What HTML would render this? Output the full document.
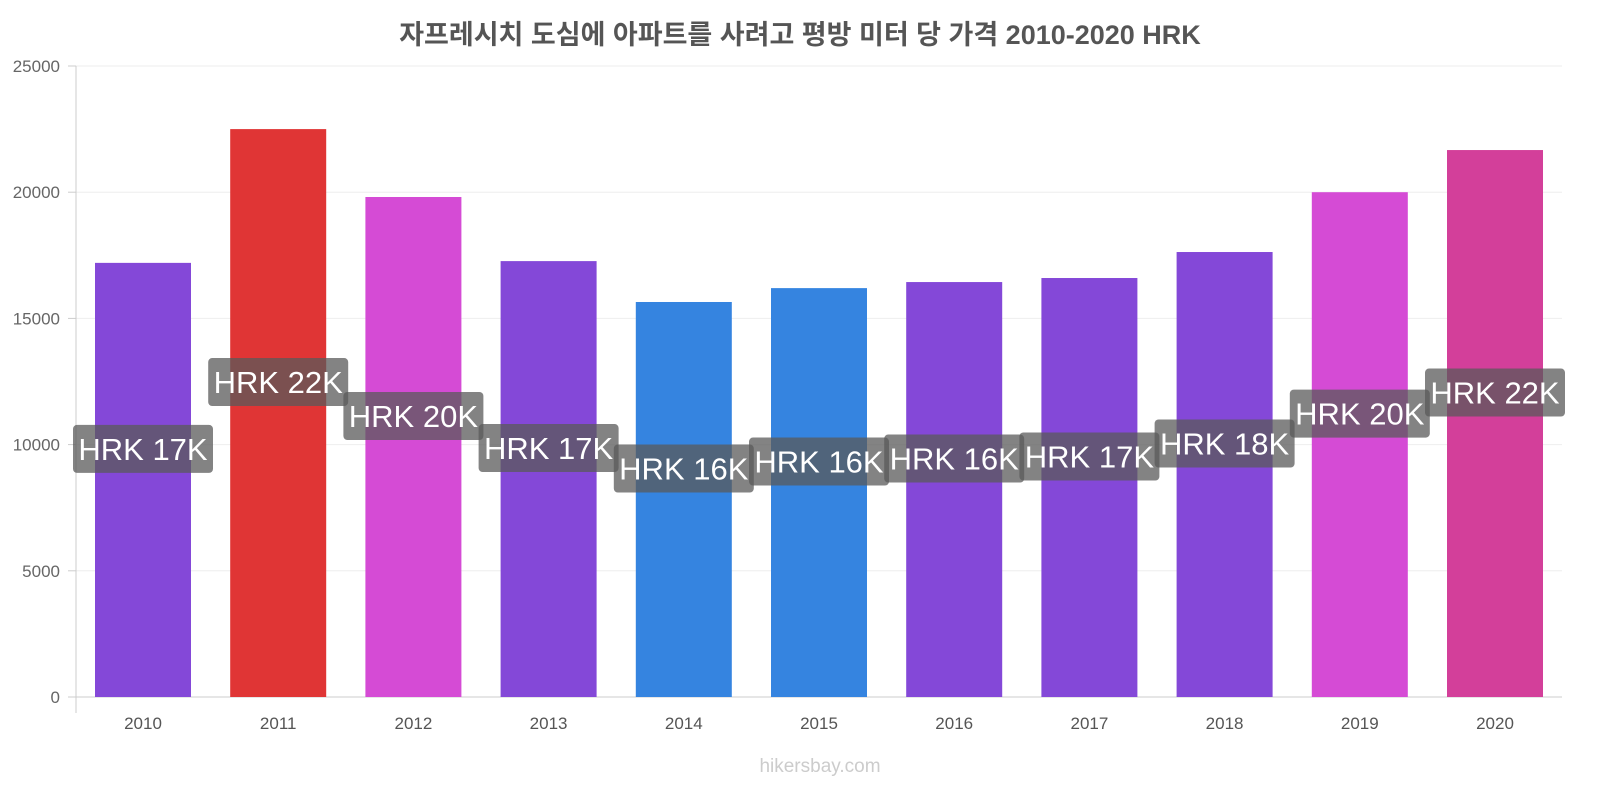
<!DOCTYPE html>
<html><head><meta charset="utf-8"><style>
body{margin:0;background:#fff;}
svg text{font-family:"Liberation Sans","Noto Sans CJK KR",sans-serif;}
</style></head><body>
<svg width="1600" height="800" viewBox="0 0 1600 800" id="chart">
<text x="800" y="44" text-anchor="middle" font-size="27" font-weight="bold" fill="#555">자프레시치 도심에 아파트를 사려고 평방 미터 당 가격 2010-2020 HRK</text>
<g id="grid"></g><g id="bars"></g><g id="labels"></g>
<text x="820" y="772" text-anchor="middle" font-size="19" fill="#ccc">hikersbay.com</text>
</svg>
<script>
const categories=["2010","2011","2012","2013","2014","2015","2016","2017","2018","2019","2020"];
const values=[17200,22500,19810,17270,15650,16200,16440,16600,17630,20000,21670];
const valueLabels=["HRK 17K","HRK 22K","HRK 20K","HRK 17K","HRK 16K","HRK 16K","HRK 16K","HRK 17K","HRK 18K","HRK 20K","HRK 22K"];
const colors=["#8448d8","#e03535","#d54bd5","#8448d8","#3584e0","#3584e0","#8448d8","#8448d8","#8448d8","#d54bd5","#d33f9a"];
const yTicks=[0,5000,10000,15000,20000,25000];
const NS="http://www.w3.org/2000/svg";
const x0=75.4,step=135.2,y0=697,yMax=25000,yTop=66;
const y=v=>y0-(v/yMax)*(y0-yTop);
const xc=i=>x0+step*(i+0.5);
function mk(t,a,p){const e=document.createElementNS(NS,t);for(const k in a)e.setAttribute(k,a[k]);p.appendChild(e);return e;}
const g=document.getElementById('grid'),b=document.getElementById('bars'),l=document.getElementById('labels');
yTicks.forEach(t=>{
 const ln=mk('line',{x1:76,x2:1562,y1:y(t),y2:y(t),stroke:t===0?'#ccc':'#eee','stroke-width':1},g);
 
 
 mk('line',{x1:68,x2:76,y1:y(t),y2:y(t),stroke:'#ccc'},g);
 const tx=mk('text',{x:60,y:y(t)+6,'text-anchor':'end','font-size':17,fill:'#666'},g);tx.textContent=t;
 
 
});
mk('line',{x1:76,x2:76,y1:yTop,y2:713,stroke:'#ccc'},g);
categories.forEach((c,i)=>{
 const r=mk('rect',{x:xc(i)-48,y:y(values[i]),width:96,height:y0-y(values[i]),fill:colors[i]},b);
 
 
 const tx=mk('text',{x:xc(i),y:729,'text-anchor':'middle','font-size':17,fill:'#555'},g);tx.textContent=c;
 
 
 const cy=(y(values[i])+y0)/2-31;
 const bx=mk('rect',{x:xc(i)-70,y:cy-24,width:140,height:48,rx:4,fill:'rgba(90,90,90,0.75)'},l);
 
 
 const vt=mk('text',{x:xc(i),y:cy+11,'text-anchor':'middle','font-size':31,fill:'#fff'},l);vt.textContent=valueLabels[i];
 
 
});
</script>
</body></html>
